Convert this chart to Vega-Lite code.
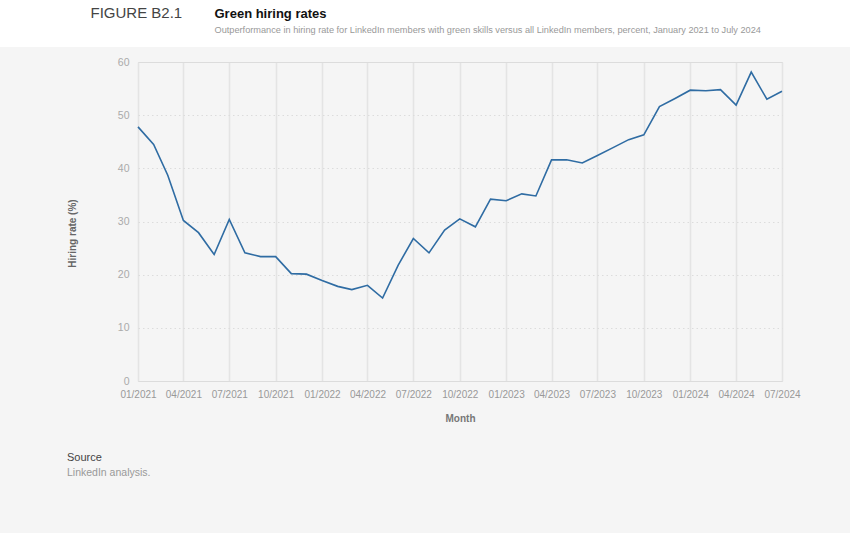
{
  "$schema": "https://vega.github.io/schema/vega-lite/v6.json",
  "width": 850,
  "height": 486,
  "autosize": {"type": "none"},
  "padding": {"top": 47, "left": 0, "right": 0, "bottom": 0},
  "background": "white",
  "view": {"fill": "#f5f5f5", "stroke": null},
  "title": {
    "text": "Source",
    "subtitle": "LinkedIn analysis.",
    "orient": "bottom",
    "anchor": "start",
    "dx": 67,
    "offset": -81,
    "fontSize": 11,
    "fontWeight": "normal",
    "color": "#444",
    "subtitleFontSize": 10.5,
    "subtitleColor": "#999",
    "subtitlePadding": 5
  },
  "data": {
    "values": [
      {"month": "2021-01-01", "rate": 47.8},
      {"month": "2021-02-01", "rate": 44.5},
      {"month": "2021-03-01", "rate": 38.7},
      {"month": "2021-04-01", "rate": 30.2},
      {"month": "2021-05-01", "rate": 27.9},
      {"month": "2021-06-01", "rate": 23.8},
      {"month": "2021-07-01", "rate": 30.4},
      {"month": "2021-08-01", "rate": 24.1},
      {"month": "2021-09-01", "rate": 23.4},
      {"month": "2021-10-01", "rate": 23.4},
      {"month": "2021-11-01", "rate": 20.2},
      {"month": "2021-12-01", "rate": 20.1},
      {"month": "2022-01-01", "rate": 18.9},
      {"month": "2022-02-01", "rate": 17.8},
      {"month": "2022-03-01", "rate": 17.2},
      {"month": "2022-04-01", "rate": 18.0},
      {"month": "2022-05-01", "rate": 15.6},
      {"month": "2022-06-01", "rate": 21.8},
      {"month": "2022-07-01", "rate": 26.8},
      {"month": "2022-08-01", "rate": 24.1},
      {"month": "2022-09-01", "rate": 28.4},
      {"month": "2022-10-01", "rate": 30.5},
      {"month": "2022-11-01", "rate": 29.0},
      {"month": "2022-12-01", "rate": 34.2},
      {"month": "2023-01-01", "rate": 33.9},
      {"month": "2023-02-01", "rate": 35.2},
      {"month": "2023-03-01", "rate": 34.8},
      {"month": "2023-04-01", "rate": 41.6},
      {"month": "2023-05-01", "rate": 41.6},
      {"month": "2023-06-01", "rate": 41.0},
      {"month": "2023-07-01", "rate": 42.4},
      {"month": "2023-08-01", "rate": 43.9},
      {"month": "2023-09-01", "rate": 45.4},
      {"month": "2023-10-01", "rate": 46.3},
      {"month": "2023-11-01", "rate": 51.6},
      {"month": "2023-12-01", "rate": 53.1},
      {"month": "2024-01-01", "rate": 54.7},
      {"month": "2024-02-01", "rate": 54.6},
      {"month": "2024-03-01", "rate": 54.8},
      {"month": "2024-04-01", "rate": 51.9},
      {"month": "2024-05-01", "rate": 58.1},
      {"month": "2024-06-01", "rate": 53.0},
      {"month": "2024-07-01", "rate": 54.5}
    ]
  },
  "layer": [
    {
      "mark": {"type": "line", "stroke": "#2f6ca3", "strokeWidth": 1.6},
      "encoding": {
        "x": {
          "field": "month",
          "type": "temporal",
          "scale": {"type": "utc", "range": [138, 782], "nice": false},
          "axis": {
            "orient": "bottom",
            "offset": -152,
            "grid": false,
            "domain": true,
            "domainColor": "#dcdcdc",
            "ticks": false,
            "format": "%m/%Y",
            "tickCount": {"interval": "month", "step": 3},
            "labelPadding": 8,
            "labelFontSize": 10,
            "labelColor": "#999",
            "labelOverlap": false,
            "labelFlush": false,
            "labelBound": false,
            "title": "Month",
            "titlePadding": 14,
            "titleFontSize": 10,
            "titleFontWeight": "bold",
            "titleColor": "#777"
          }
        },
        "y": {
          "field": "rate",
          "type": "quantitative",
          "scale": {"domain": [0, 60], "range": [334, 15], "nice": false},
          "axis": {
            "orient": "left",
            "offset": -138,
            "values": [0, 10, 20, 30, 40, 50, 60],
            "grid": true,
            "gridColor": "#dcdcdc",
            "gridDash": [1.5, 3],
            "domain": false,
            "ticks": false,
            "labelPadding": 9,
            "labelFontSize": 10.5,
            "labelColor": "#aaa",
            "title": "Hiring rate (%)",
            "titleX": -66,
            "titleY": 186,
            "titleAngle": -90,
            "titleAlign": "center",
            "titleBaseline": "middle",
            "titleFontSize": 10,
            "titleFontWeight": "bold",
            "titleColor": "#666"
          }
        }
      }
    },
    {
      "mark": {"type": "line", "opacity": 0},
      "encoding": {
        "x": {
          "field": "month",
          "type": "temporal",
          "axis": {
            "orient": "top",
            "offset": -15,
            "grid": true,
            "gridColor": "#e4e4e4",
            "gridWidth": 1.5,
            "domain": true,
            "domainColor": "#dcdcdc",
            "ticks": false,
            "labels": false,
            "tickCount": {"interval": "month", "step": 3},
            "title": "FIGURE B2.1",
            "titleX": 90,
            "titleY": -45,
            "titleAngle": 0,
            "titleAlign": "left",
            "titleBaseline": "alphabetic",
            "titleFontSize": 15,
            "titleFontWeight": "normal",
            "titleColor": "#444"
          }
        },
        "y": {
          "field": "rate",
          "type": "quantitative",
          "axis": {
            "orient": "right",
            "grid": false,
            "domain": false,
            "ticks": false,
            "labels": false,
            "title": "Green hiring rates",
            "titleX": -636,
            "titleY": -30,
            "titleAngle": 0,
            "titleAlign": "left",
            "titleBaseline": "alphabetic",
            "titleFontSize": 13,
            "titleFontWeight": "bold",
            "titleColor": "#111"
          }
        }
      }
    },
    {
      "mark": {"type": "line", "opacity": 0},
      "encoding": {
        "x": {
          "field": "month",
          "type": "temporal",
          "axis": {
            "orient": "top",
            "grid": false,
            "domain": false,
            "ticks": false,
            "labels": false,
            "title": "Outperformance in hiring rate for LinkedIn members with green skills versus all LinkedIn members, percent, January 2021 to July 2024",
            "titleX": 214,
            "titleY": -15,
            "titleAngle": 0,
            "titleAlign": "left",
            "titleBaseline": "alphabetic",
            "titleFontSize": 9.2,
            "titleFontWeight": "normal",
            "titleColor": "#999"
          }
        },
        "y": {"field": "rate", "type": "quantitative", "axis": null}
      }
    }
  ],
  "resolve": {"axis": {"x": "independent", "y": "independent"}},
  "config": {"font": "Liberation Sans"}
}
